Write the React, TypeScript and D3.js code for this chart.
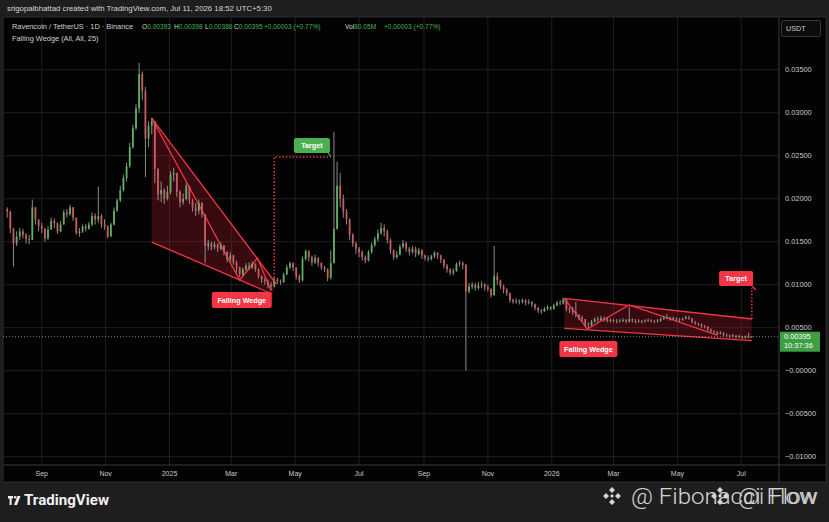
import React from 'react';
import * as d3 from 'd3';

const W = 829;
const H = 522;

// RVN/USDT, one bar = 3 days starting 2024-07-30, prices in 0.00001 USDT
const firstOpen = 1880;
const closes = [
  1850, 1650, 1480, 1560, 1620, 1580, 1530, 1520, 1900, 1760,
  1680, 1650, 1540, 1640, 1740, 1720, 1620, 1700, 1840, 1820,
  1900, 1780, 1600, 1620, 1680, 1650, 1700, 1800, 1760, 1800,
  1700, 1680, 1560, 1700, 1860, 1980, 2100, 2240, 2380, 2600,
  2820, 3050, 3450, 3250, 2700, 2850, 2900, 2350, 2050, 2100,
  2000, 2080, 2280, 2300, 2080, 1960, 2000, 2150, 1980, 1900,
  1860, 1950, 1820, 1450, 1480, 1440, 1470, 1420, 1460, 1380,
  1300, 1340, 1260, 1200, 1120, 1180, 1220, 1200, 1240, 1180,
  1100, 1060, 1040, 1000, 980, 1060, 1040, 1030, 1120, 1200,
  1250, 1200, 1100, 1050, 1300, 1390, 1320, 1260, 1310, 1250,
  1200, 1180, 1080, 1250, 1650, 2150, 2000, 1850, 1760, 1580,
  1480, 1420, 1380, 1320, 1280, 1380, 1460, 1530, 1600, 1660,
  1620, 1520, 1400, 1320, 1350, 1440, 1480, 1420, 1380, 1420,
  1360, 1400, 1340, 1310, 1300, 1330, 1370, 1340, 1290, 1220,
  1180, 1140, 1160, 1240, 1250, 1230, 920, 980, 1000, 960,
  990, 1000, 970, 950, 880, 1100, 1050, 980, 940, 900,
  820, 800, 810, 800, 820, 790, 800, 770, 730, 700,
  690, 720, 740, 720, 760, 790, 780, 830, 720, 700,
  680, 650, 620, 600, 540, 530, 570, 600, 590, 610,
  600, 580, 590, 580, 570, 580, 590, 570, 600, 580,
  570, 580, 570, 580, 590, 580, 570, 580, 600, 610,
  620, 600, 610, 600, 590, 600, 620, 610, 570, 550,
  540, 520, 510, 480, 460, 450, 430, 440, 420, 410,
  400, 410, 390, 400, 385, 395, 393, 395,
];
const highs = [
  1900, 1860, 1660, 1620, 1660, 1650, 1600, 1580, 1990, 1900,
  1760, 1720, 1660, 1680, 1780, 1770, 1720, 1740, 1870, 1880,
  1930, 1900, 1780, 1660, 1700, 1710, 1730, 1840, 1830, 2140,
  1820, 1760, 1690, 1720, 1900, 2000, 2150, 2280, 2420, 2650,
  2860, 3100, 3580, 3480, 3300, 2900, 2940, 2900, 2350, 2200,
  2120, 2150, 2320, 2360, 2300, 2100, 2060, 2180, 2150, 2000,
  1950, 1990, 1960, 1820, 1520, 1500, 1500, 1480, 1490, 1460,
  1390, 1380, 1350, 1280, 1210, 1200, 1250, 1260, 1270, 1250,
  1190, 1110, 1080, 1060, 1030, 1090, 1080, 1060, 1140, 1230,
  1270, 1260, 1200, 1120, 1330, 1410, 1400, 1340, 1350, 1320,
  1260, 1220, 1190, 1400, 2775, 2430, 2300, 2050, 1880, 1770,
  1600, 1500, 1440, 1400, 1340, 1400, 1490, 1560, 1640, 1720,
  1700, 1640, 1540, 1410, 1390, 1470, 1520, 1500, 1440, 1450,
  1440, 1430, 1410, 1350, 1340, 1350, 1390, 1380, 1350, 1300,
  1240, 1190, 1190, 1260, 1280, 1270, 1240, 1020, 1030, 1020,
  1030, 1040, 1020, 1000, 960, 1450, 1140, 1060, 1000, 960,
  910, 840, 840, 830, 840, 830, 830, 810, 780, 740,
  720, 740, 760, 750, 780, 810, 820, 850, 830, 740,
  740, 800, 660, 640, 600, 560, 590, 620, 630, 640,
  630, 620, 610, 600, 600, 600, 610, 600, 740, 610,
  600, 600, 590, 600, 610, 600, 590, 600, 620, 640,
  660, 630, 630, 620, 610, 620, 640, 640, 610, 580,
  560, 550, 530, 520, 490, 470, 460, 460, 450, 430,
  420, 430, 410, 420, 405, 410, 440, 398,
];
const lows = [
  1780, 1600, 1210, 1450, 1520, 1540, 1480, 1470, 1520, 1700,
  1620, 1600, 1500, 1520, 1640, 1660, 1590, 1610, 1700, 1780,
  1800, 1740, 1580, 1560, 1600, 1620, 1640, 1680, 1700, 1720,
  1660, 1640, 1540, 1560, 1690, 1850, 1960, 2080, 2200, 2360,
  2580, 2800, 3000, 3150, 2250, 2600, 2750, 2180, 1980, 1960,
  1940, 1980, 2050, 2200, 2020, 1900, 1930, 1980, 1940, 1850,
  1800, 1820, 1780, 1250, 1400, 1400, 1410, 1380, 1400, 1340,
  1260, 1270, 1230, 1140, 1090, 1100, 1160, 1170, 1180, 1150,
  1070, 1020, 1000, 960, 940, 970, 1010, 1000, 1020, 1110,
  1180, 1160, 1060, 1020, 1040, 1280, 1270, 1220, 1240, 1210,
  1170, 1150, 1040, 1060, 1250, 1640, 1900, 1780, 1700, 1520,
  1440, 1360, 1320, 1280, 1250, 1270, 1360, 1440, 1500, 1580,
  1560, 1480, 1360, 1290, 1300, 1340, 1420, 1380, 1340, 1360,
  1320, 1340, 1300, 1280, 1270, 1280, 1310, 1300, 1250, 1190,
  1140, 1110, 1110, 1150, 1210, 1180, 0, 900, 950, 930,
  940, 960, 930, 920, 850, 870, 1000, 950, 900, 870,
  790, 780, 780, 770, 780, 760, 770, 740, 700, 670,
  660, 680, 700, 700, 710, 750, 760, 770, 690, 670,
  650, 620, 590, 570, 510, 500, 520, 560, 560, 580,
  570, 560, 560, 560, 550, 560, 565, 550, 560, 560,
  550, 560, 550, 560, 570, 560, 550, 560, 570, 590,
  600, 580, 590, 580, 570, 580, 600, 590, 550, 530,
  520, 500, 490, 460, 440, 430, 410, 420, 400, 390,
  380, 390, 375, 380, 370, 375, 380, 386,
];

const priceTicks = [0.035, 0.03, 0.025, 0.02, 0.015, 0.01, 0.005, 0, -0.005, -0.01];
const monthTicks = [
  '2024-09-01', '2024-11-01', '2025-01-01', '2025-03-01', '2025-05-01', '2025-07-01',
  '2025-09-01', '2025-11-01', '2026-01-01', '2026-03-01', '2026-05-01', '2026-07-01',
];
const monthLabels = ['Sep', 'Nov', '2025', 'Mar', 'May', 'Jul', 'Sep', 'Nov', '2026', 'Mar', 'May', 'Jul'];

// drawings: [date, price]
const wedge1Upper = [['2024-12-15', 0.02938], ['2025-04-13', 0.01008]];
const wedge1Lower = [['2024-12-15', 0.01496], ['2025-04-09', 0.00892]];
const wedge1Zigzag = [['2024-12-15', 0.02938], ['2025-03-09', 0.01055], ['2025-03-26', 0.0131], ['2025-04-08', 0.0093]];
const target1Path = [['2025-04-11', 0.0100], ['2025-04-11', 0.02485], ['2025-06-04', 0.02485]];
const wedge2Upper = [['2026-01-13', 0.00842], ['2026-07-11', 0.00601]];
const wedge2Lower = [['2026-01-13', 0.00493], ['2026-07-11', 0.00349]];
const wedge2Zigzag = [['2026-01-13', 0.00842], ['2026-02-04', 0.00485], ['2026-03-16', 0.00764], ['2026-06-08', 0.00415]];
const target2Path = [['2026-07-11', 0.00601], ['2026-07-11', 0.00962]];

const lastPrice = 0.00395;

const parse = d3.utcParse('%Y-%m-%d');
const start = parse('2024-07-30') as Date;

const x = d3.scaleUtc().domain([parse('2024-07-26') as Date, parse('2026-08-06') as Date]).range([3, 779]);
const y = d3.scaleLinear().domain([-0.01, 0.035]).range([456.7, 69.7]);

const bars = closes.map((c, i) => {
  const o = i === 0 ? firstOpen : closes[i - 1];
  return {
    date: d3.utcDay.offset(start, 3 * i),
    o: o / 1e5,
    c: c / 1e5,
    h: Math.max(highs[i], o, c) / 1e5,
    l: Math.min(lows[i], o, c) / 1e5,
  };
});

const pt = (d: any[]) => [x(parse(d[0]) as Date), y(d[1])] as [number, number];
const line = d3.line();

const RED = '#f23645';
const GREEN = '#4caf50';
const FONT = '"Liberation Sans", Arial, sans-serif';

function Label({ at, w, h, fill, text, pointer }: any) {
  const [cx, cy] = pt(at);
  return (
    <g>
      {pointer && <line x1={cx + w / 2 - 2} y1={cy + h / 2 - 1} x2={pointer[0]} y2={pointer[1]} stroke={fill} strokeWidth={1.2} />}
      <rect x={cx - w / 2} y={cy - h / 2} width={w} height={h} rx={2} fill={fill} />
      <text x={cx} y={cy + 2.5} textAnchor="middle" fontSize={7.2} fontWeight="bold" fill="#fff" fontFamily={FONT}>{text}</text>
    </g>
  );
}

function Wedge({ upper, lower, zigzag }: any) {
  const u = upper.map(pt);
  const l = lower.map(pt);
  const poly = [u[0], u[1], l[1], l[0]];
  return (
    <g>
      <path d={line(poly as any) + 'Z'} fill="rgba(190,30,45,0.28)" />
      <path d={line(u) as string} stroke={RED} strokeWidth={1.3} fill="none" />
      <path d={line(l) as string} stroke={RED} strokeWidth={1.3} fill="none" />
      <path d={line(zigzag.map(pt)) as string} stroke={RED} strokeWidth={1.3} fill="none" />
    </g>
  );
}

// legend pieces: [x, label, value]
const legendOHLC = [
  [142, 'O', '0.00393'],
  [174, 'H', '0.00398'],
  [205, 'L', '0.00386'],
  [234, 'C', '0.00395'],
];

export default function App() {
  const bw = 1.8;
  const t1 = target1Path.map(pt);
  const t2 = target2Path.map(pt);
  const yl = y(lastPrice);
  return (
    <div style={{ position: 'absolute', left: 0, top: 0, width: W, height: H, background: '#1e1e1e' }}>
      <svg width={W} height={H} style={{ display: 'block' }} fontFamily={FONT}>
        <defs>
          <clipPath id="plot">
            <rect x={3} y={17} width={776} height={448} />
          </clipPath>
        </defs>
        <rect width={W} height={H} fill="#1e1e1e" />
        <text x={7} y={11} fontSize={7.8} fill="#d6d6d6">srigopalbhattad created with TradingView.com, Jul 11, 2026 18:52 UTC+5:30</text>

        <rect x={3} y={17} width={823} height={465} fill="#030303" stroke="#2c2c2c" strokeWidth={1} />

        {/* grid */}
        {priceTicks.map((p) => (
          <line key={'h' + p} x1={3} x2={779} y1={y(p)} y2={y(p)} stroke="#1f1f1f" strokeWidth={1} />
        ))}
        {monthTicks.map((m) => (
          <line key={'v' + m} x1={x(parse(m) as Date)} x2={x(parse(m) as Date)} y1={17} y2={465} stroke="#1f1f1f" strokeWidth={1} />
        ))}

        <g clipPath="url(#plot)">
          <Wedge upper={wedge1Upper} lower={wedge1Lower} zigzag={wedge1Zigzag} />
          <Wedge upper={wedge2Upper} lower={wedge2Lower} zigzag={wedge2Zigzag} />

          {/* last price line */}
          <line x1={3} x2={779} y1={yl} y2={yl} stroke="#8a8a8a" strokeWidth={1} strokeDasharray="1 2" />

          {/* candles */}
          {bars.map((b, i) => {
            const cx = x(b.date);
            const up = b.c >= b.o;
            const top = y(Math.max(b.o, b.c));
            const hgt = Math.max(0.8, y(Math.min(b.o, b.c)) - top);
            return (
              <g key={i}>
                <line x1={cx} x2={cx} y1={y(b.h)} y2={y(b.l)} stroke="#9a9a9a" strokeWidth={0.9} />
                <rect x={cx - bw / 2} y={top} width={bw} height={hgt} fill={up ? '#5fae62' : '#c95a60'} />
              </g>
            );
          })}

          {/* targets */}
          <path d={line(t1) as string} stroke={RED} strokeWidth={1.6} fill="none" strokeDasharray="1.4 2" />
          <path d={line(t2) as string} stroke={RED} strokeWidth={1.6} fill="none" strokeDasharray="1.4 2" />
        </g>

        <Label at={['2025-03-11', 0.00822]} w={60} h={16} fill={RED} text="Falling Wedge" />
        <Label at={['2026-02-05', 0.00252]} w={58} h={16} fill={RED} text="Falling Wedge" />
        <Label at={['2025-05-17', 0.02619]} w={36} h={15} fill={GREEN} text="Target" pointer={[t1[2][0], t1[2][1]]} />
        <Label at={['2026-06-26', 0.01072]} w={34} h={15} fill={RED} text="Target" pointer={[t2[1][0] + 4, t2[1][1] + 2]} />

        {/* legend */}
        <g fontSize={6.6} fill="#d0d0d0">
          <text x={12} y={29} fontSize={7.4}>Ravencoin / TetherUS · 1D · Binance</text>
          {legendOHLC.map(([lx, k, v]) => (
            <text key={k as string} x={lx as number} y={29}>
              {k}<tspan fill={GREEN}>{v}</tspan>
            </text>
          ))}
          <text x={264} y={29} fill={GREEN}>+0.00003 (+0.77%)</text>
          <text x={345} y={29}>Vol<tspan fill={GREEN}>80.05M</tspan></text>
          <text x={384} y={29} fill={GREEN}>+0.00003 (+0.77%)</text>
          <text x={12} y={41} fontSize={7.4}>Falling Wedge (All, All, 25)</text>
        </g>

        {/* price axis */}
        <line x1={779} x2={779} y1={17} y2={482} stroke="#3a3a3a" strokeWidth={1} />
        <rect x={781.5} y={20.5} width={39} height={16} rx={2} fill="#0c0c0c" stroke="#3a3a3a" />
        <text x={786} y={31} fontSize={7.2} fill="#d0d0d0">USDT</text>
        {priceTicks.map((p) => (
          <text key={'t' + p} x={785} y={y(p) + 2.6} fontSize={7.4} fill="#c8c8c8">
            {(p <= 0 ? '−' : '') + Math.abs(p).toFixed(5)}
          </text>
        ))}
        <rect x={780} y={yl - 5} width={40} height={20} fill="#3f9e45" />
        <text x={784} y={yl + 2.5} fontSize={7.4} fill="#fff">{lastPrice.toFixed(5)}</text>
        <text x={784} y={yl + 11.5} fontSize={7.4} fill="#fff">10:37:36</text>

        {/* time axis */}
        <line x1={3} x2={826} y1={465} y2={465} stroke="#3a3a3a" strokeWidth={1} />
        {monthTicks.map((m, i) => (
          <text key={'m' + m} x={x(parse(m) as Date)} y={476} fontSize={7} fill="#c8c8c8" textAnchor="middle">
            {monthLabels[i]}
          </text>
        ))}

        {/* footer */}
        <g transform="translate(8,496)" fill="#f0f0f0">
          <rect x={0} y={0} width={5} height={2.5} />
          <rect x={1.6} y={0} width={2} height={9} />
          <circle cx={7.2} cy={1.3} r={1.3} />
          <path d="M9.5 0 L12.5 0 L9 9 L6 9 Z" />
        </g>
        <text x={24} y={505} fontSize={14} fontWeight="bold" fill="#f0f0f0" fontFamily='"Roboto", sans-serif' textLength={85} lengthAdjust="spacingAndGlyphs">TradingView</text>

        <g fill="#e8e8e8" opacity={0.9}>
          <g transform="translate(612,496)">
            <path d="M0 -9 L3 -6 L0 -3 L-3 -6 Z M0 3 L3 6 L0 9 L-3 6 Z M-9 0 L-6 -3 L-3 0 L-6 3 Z M9 0 L6 -3 L3 0 L6 3 Z M0 -2 L2 0 L0 2 L-2 0 Z" />
          </g>
          <text x={631} y={504} fontSize={22} fontWeight={300} fontFamily='"Roboto", sans-serif' textLength={186} lengthAdjust="spacingAndGlyphs">@ Fibonacci Flow</text>
          <g transform="translate(720,496)">
            <path d="M0 -9 L3 -6 L0 -3 L-3 -6 Z M0 3 L3 6 L0 9 L-3 6 Z M-9 0 L-6 -3 L-3 0 L-6 3 Z M9 0 L6 -3 L3 0 L6 3 Z M0 -2 L2 0 L0 2 L-2 0 Z" />
          </g>
          <text x={738} y={504} fontSize={22} fontWeight={300} fontFamily='"Roboto", sans-serif' textLength={80} lengthAdjust="spacingAndGlyphs">@i Flow</text>
        </g>
      </svg>
    </div>
  );
}
